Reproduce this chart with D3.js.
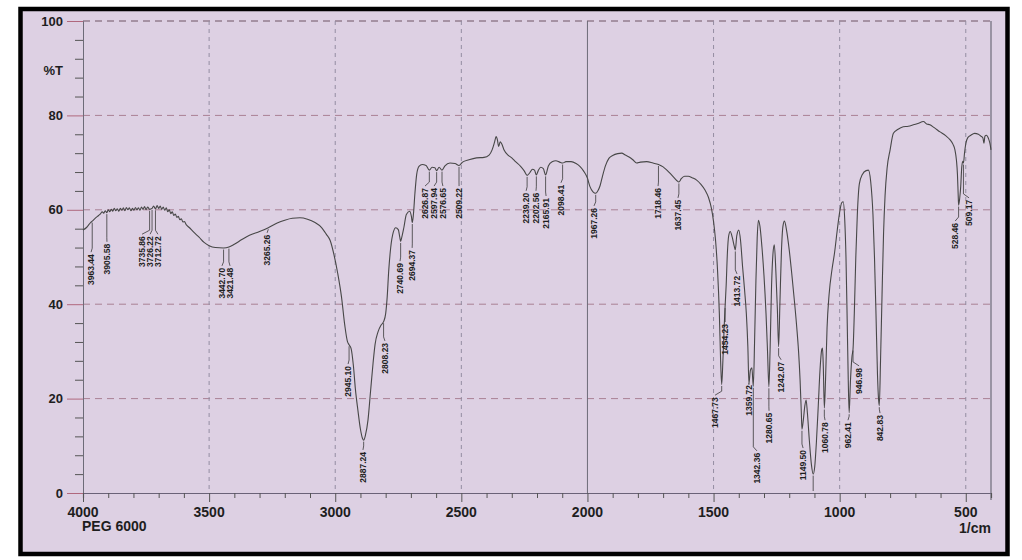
<!DOCTYPE html>
<html><head><meta charset="utf-8">
<script src="https://cdn.jsdelivr.net/npm/d3@7"></script>
<style>body{margin:0;background:#fff}svg{display:block}</style>
</head><body><svg id="c" width="1022" height="560"></svg>
<script>
// ---------- data ----------
const wavenumbers = [4000,3985,3970,3963.44,3950,3938,3930,3924,3918,3912,3905.58,3900,3894,3888,3882,3876,3870,3864,3858,3852,3846,3840,3834,3828,3822,3816,3810,3804,3798,3792,3786,3780,3774,3768,3762,3756,3750,3744,3735.86,3726.22,3720,3712.72,3706,3700,3694,3688,3682,3676,3670,3664,3658,3652,3646,3640,3634,3628,3622,3616,3610,3604,3598,3590,3580,3560,3540,3520,3500,3475,3442.70,3421.48,3400,3370,3340,3300,3265.26,3230,3200,3170,3140,3110,3080,3055,3035,3020,3005,2990,2975,2962,2952,2945.10,2937,2928,2920,2910,2900,2892,2887.24,2880,2870,2860,2850,2842,2830,2818,2808.23,2800,2794,2788,2780,2770,2760,2750,2744,2740.69,2736,2728,2718,2705,2698,2694.37,2690,2684,2677,2668,2655,2640,2626.87,2616,2605,2597.94,2588,2576.65,2565,2545,2525,2509.22,2495,2470,2440,2410,2390,2378,2368,2362,2357,2352,2346,2340,2330,2315,2300,2285,2265,2250,2239.20,2228,2218,2210,2202.56,2195,2185,2175,2165.91,2155,2140,2125,2110,2098.41,2085,2065,2045,2030,2015,2000,1990,1978,1967.26,1958,1950,1940,1928,1915,1900,1880,1864,1850,1835,1820,1805,1790,1765,1740,1718.46,1700,1685,1672,1655,1646,1637.45,1628,1615,1600,1585,1567,1550,1534,1520,1508,1500,1492,1484,1477,1472,1467.73,1463,1458,1454.23,1450,1445,1440,1434,1426,1418,1413.72,1408,1400,1393,1385,1377,1370,1364,1359.72,1354,1348,1342.36,1337,1332,1327,1322,1316,1308,1300,1292,1286,1280.65,1276,1270,1264,1259,1253,1247,1242.07,1237,1231,1225,1219,1210,1200,1190,1180,1170,1163,1157,1152,1149.50,1144,1138,1133,1128,1120,1112,1105,1099,1092,1085,1078,1071,1068,1065,1060.78,1056,1050,1042,1030,1020,1010,1000,992,986,980,975,970,966,962.41,957,951,946.98,942,936,930,922,910,895,886,877,868,862,856,850,846,842.83,838,832,826,820,812,800,787,770,748,728,708,690,668,655,642,625,602,580,562,550,543,537,533,530,528.46,524,520,516,512,509.17,505,500,492,480,465,450,440,432,428,424,418,410,404,400];
const transmittance = [55.7,56.3,57.3,57.6,58.3,58.8,59.2,59.6,59.3,59.8,59.4,60.0,59.6,60.1,59.7,60.3,59.8,60.2,59.7,60.3,59.9,60.4,59.8,60.5,60.0,60.4,59.8,60.3,59.9,60.5,60.0,60.4,59.9,60.6,60.1,60.7,60.0,60.6,60.1,60.3,60.8,60.2,60.9,60.3,60.8,60.1,60.6,59.9,60.4,59.6,60.0,59.2,59.6,58.8,59.1,58.4,58.6,57.9,58.1,57.4,57.5,56.8,56.3,55.2,54.2,53.1,52.4,52.0,51.9,52.1,52.7,53.7,54.6,55.4,56.2,57.2,57.8,58.2,58.3,58.0,57.3,56.3,54.8,53.5,50.5,46.5,41.5,35.5,32.2,31.4,30.6,27.0,22.0,17.5,13.5,11.6,11.2,12.3,15.5,21.5,27.5,31.5,34.2,35.6,36.3,38.0,41.5,47.0,52.0,55.2,56.2,55.8,54.2,53.3,54.2,56.2,59.0,59.7,58.6,57.3,59.0,63.5,67.5,69.2,69.6,69.4,68.4,69.0,68.9,68.3,69.0,68.4,69.3,69.9,69.8,69.4,70.1,70.6,71.0,71.1,71.6,72.7,74.4,75.5,74.8,73.4,74.4,74.0,72.6,71.6,71.0,70.2,69.2,68.2,67.3,67.9,68.6,68.4,67.4,68.3,69.0,68.7,67.4,69.3,70.2,70.4,70.1,69.9,70.2,70.2,69.8,69.2,68.2,66.7,64.9,63.8,63.5,64.1,65.1,67.2,69.4,70.9,71.5,71.9,72.0,71.6,71.2,70.6,69.9,70.1,70.2,69.9,69.6,69.1,68.4,67.7,66.7,66.2,65.9,66.6,67.1,67.1,66.8,66.3,65.4,64.2,62.6,60.2,57.5,53.5,47,38,28,23.0,28,35,39.5,44,51,54.5,55.4,54.2,52.3,51.5,54.5,55.7,53.5,48,43,38,31,23.2,26,26.5,22.6,33,45,54,57.8,56.5,52,46,38,30,22.5,30,44,51,52.6,47,39,31.0,40,51,56.5,57.6,55.5,51.5,46.5,41,35,30,24,17,13.5,15.5,18.5,19.7,17,11,6,4.0,5.5,11,18.3,26,30.4,30.7,27,18.0,24,35,42,47.5,51,55.5,59.5,61.5,61.7,58,50,36,24,17.0,24,29,30.5,38,50,59,65.5,67.5,68.3,68.4,66,59,50,38,25,20,18.5,28,42,55,63,68.8,72.7,76.2,77.0,77.6,77.7,78.0,78.3,78.7,78.2,78.0,77.4,76.5,75.7,74.8,73.8,72.7,70.5,67.5,63,61.0,62.5,65,69,70.3,69.9,72,74,75.3,75.8,76.2,76.0,75.6,75.2,74.1,75.6,75.8,75.1,74,72.7];

const peakWavenumbers = [3963.44,3905.58,3735.86,3726.22,3712.72,3442.70,3421.48,3265.26,2945.10,2887.24,2808.23,2740.69,2694.37,2626.87,2597.94,2576.65,2509.22,2239.20,2202.56,2165.91,2098.41,1967.26,1718.46,1637.45,1467.73,1454.23,1413.72,1359.72,1342.36,1280.65,1242.07,1149.50,1105,1060.78,962.41,946.98,842.83,528.46,509.17];
const peakLabels = ["3963.44","3905.58","3735.86","3726.22","3712.72","3442.70","3421.48","3265.26","2945.10","2887.24","2808.23","2740.69","2694.37","2626.87","2597.94","2576.65","2509.22","2239.20","2202.56","2165.91","2098.41","1967.26","1718.46","1637.45","1467.73","1454.23","1413.72","1359.72","1342.36","1280.65","1242.07","1149.50","","1060.78","962.41","946.98","842.83","528.46","509.17"];

const xTicks = [4000,3500,3000,2500,2000,1500,1000,500];
const yTicks = [0,20,40,60,80,100];
const xLabel = "1/cm";
const yLabel = "%T";
const sampleName = "PEG 6000";

// ---------- layout (label anchor: wavenumber of text column, %T of text top) ----------
const labelAnchorWn = [3968,3905,3766,3734,3703,3449,3417,3270,2949,2890,2803,2743,2695,2644,2608,2573,2509,2243,2204,2164,2105,1974,1720,1641,1494,1454,1407,1359,1328,1280,1232,1145,1105,1058,967,923,840,542,487];
const labelAnchorT = [50.6,52.8,54.4,54.4,54.4,47.7,47.7,54.7,26.9,8.7,31.8,48.7,51.5,64.6,64.6,64.6,64.6,63.6,63.6,62.5,65.3,60.4,64.6,62.1,20.3,35.8,46,22.9,8.5,17,27.8,9.1,0,15,15,26.5,16.5,57.2,62.1];

// ---------- drawing ----------
const svg = d3.select("#c");
const W = 1022, H = 560;
const x = d3.scaleLinear().domain([4000,400]).range([83,991]);
const y = d3.scaleLinear().domain([0,100]).range([493,21]);
const font = "'Liberation Sans', Arial, sans-serif";

svg.append("rect").attr("width",W).attr("height",H).attr("fill","#fff");
svg.append("rect").attr("x",20.5).attr("y",9).attr("width",987).attr("height",545)
  .attr("fill","#ddd0e3").attr("stroke","#000").attr("stroke-width",4.5);

// horizontal grid
svg.append("g").selectAll("line").data(yTicks.filter(d=>d>0)).join("line")
  .attr("x1",x(4000)).attr("x2",x(400)).attr("y1",d=>y(d)).attr("y2",d=>y(d))
  .attr("stroke",d=>d===100?"#6e5565":"#a98094").attr("stroke-width",1)
  .attr("stroke-dasharray","7,5");

// vertical grid
svg.append("g").selectAll("line").data(xTicks.filter(d=>d<4000)).join("line")
  .attr("x1",d=>x(d)).attr("x2",d=>x(d)).attr("y1",y(100)).attr("y2",y(0))
  .attr("stroke",d=>d===2000?"#6d6b78":"#948da2")
  .attr("stroke-width",1)
  .attr("stroke-dasharray",d=>d===2000?null:"4,4");

// right border
svg.append("line").attr("x1",x(400)).attr("x2",x(400)).attr("y1",y(100)).attr("y2",y(0)+7)
  .attr("stroke","#6d6b78").attr("stroke-width",1.2);

// y axis
const yAxis = d3.axisLeft(y).tickValues(d3.range(0,101,4)).tickSize(8).tickFormat("");
const gy = svg.append("g").attr("transform",`translate(${x(4000)},0)`).call(yAxis);
gy.select(".domain").attr("stroke","#6d6b78");
gy.selectAll(".tick line").attr("stroke","#555").attr("x2",-8);
gy.selectAll(".tick").filter(d=>d%20===0).select("line").attr("x2",-16).attr("stroke","#b0687e");
const gyl = svg.append("g");
gyl.selectAll("text").data(yTicks).join("text")
  .attr("x",63).attr("y",d=>y(d)).attr("dy","0.36em").attr("text-anchor","end")
  .attr("font-family",font).attr("font-weight","bold").attr("font-size",13).attr("fill","#1e1e1e")
  .text(d=>d);
svg.append("text").attr("x",63).attr("y",70).attr("dy","0.36em").attr("text-anchor","end")
  .attr("font-family",font).attr("font-weight","bold").attr("font-size",13).attr("fill","#1e1e1e")
  .text(yLabel);

// x axis
const xAxis = d3.axisBottom(x).tickValues(d3.range(4000,399,-100)).tickSize(5).tickFormat("");
const gx = svg.append("g").attr("transform",`translate(0,${y(0)})`).call(xAxis);
gx.select(".domain").attr("stroke","#6a6278").attr("stroke-width",1.2);
gx.selectAll(".tick line").attr("stroke","#555");
gx.selectAll(".tick").filter(d=>d%500===0).select("line").attr("y2",9);
svg.append("g").selectAll("text").data(xTicks).join("text")
  .attr("x",d=>x(d)).attr("y",512).attr("dy","0.36em").attr("text-anchor","middle")
  .attr("font-family",font).attr("font-weight","bold").attr("font-size",14).attr("fill","#1e1e1e")
  .text(d=>d);
svg.append("text").attr("x",x(4000)-1).attr("y",531).attr("text-anchor","start")
  .attr("font-family",font).attr("font-weight","bold").attr("font-size",14).attr("fill","#1e1e1e")
  .text(sampleName);
svg.append("text").attr("x",x(400)).attr("y",533).attr("text-anchor","end")
  .attr("font-family",font).attr("font-weight","bold").attr("font-size",14).attr("fill","#1e1e1e")
  .text(xLabel);

// spectrum
const pts = wavenumbers.map((w,i)=>[w,transmittance[i]]);
const line = d3.line().x(d=>x(d[0])).y(d=>y(d[1])).curve(d3.curveMonotoneX);
svg.append("path").datum(pts).attr("d",line).attr("fill","none")
  .attr("stroke","#474747").attr("stroke-width",1.1);

// curve value at a wavenumber (for leader start)
function tAt(w){
  for(let i=0;i<wavenumbers.length-1;i++){
    const a=wavenumbers[i], b=wavenumbers[i+1];
    if(w<=a && w>=b){const f=(a-w)/(a-b);return transmittance[i]+f*(transmittance[i+1]-transmittance[i]);}
  }
  return transmittance[transmittance.length-1];
}

// peak labels
const ann = peakWavenumbers.map((w,i)=>({w,label:peakLabels[i],lw:labelAnchorWn[i],lt:labelAnchorT[i]}));
const ga = svg.append("g");
ann.forEach(a=>{
  const xp=x(a.w), yc=y(tAt(a.w))+1.5, xl=x(a.lw), top=y(a.lt);
  const bend = Math.max(yc, top-6);
  ga.append("path").attr("d",`M${xp},${yc}L${xp},${Math.min(bend,top-2)}L${xl},${top-2}`)
    .attr("fill","none").attr("stroke","#3a3a3a").attr("stroke-width",0.8);
  if(a.label){
    ga.append("text").attr("transform",`translate(${xl},${top}) rotate(-90)`)
      .attr("text-anchor","end").attr("dy","0.35em")
      .attr("font-family",font).attr("font-weight","bold").attr("font-size",8.5).attr("fill","#1e1e1e")
      .text(a.label);
  }
});
</script></body></html>
